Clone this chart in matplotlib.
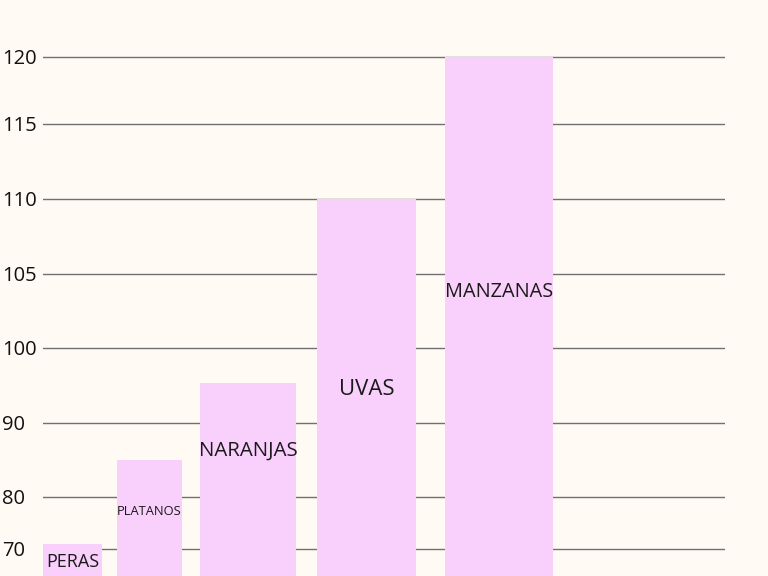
import numpy as np
import matplotlib
matplotlib.use("Agg")
import matplotlib.pyplot as plt

# Fruit counts
fruits = ["PERAS", "PLATANOS", "NARANJAS", "UVAS", "MANZANAS"]
values = [71, 85, 95.3, 110, 120]
label_y = [67.5, 77.3, 86.2, 94.4, 103.8]
label_sizes = [13, 9.3, 14.7, 15.9, 14.3]

# Bar layout (uneven widths, like the original)
lefts = [43, 117, 200, 317, 445]
widths = [59, 65, 96, 99, 108]

# The axis is not linear: tick values and where they sit (px from bottom)
tick_vals = [70, 80, 90, 100, 105, 110, 115, 120]
tick_h = [27, 79, 153, 228, 302, 377, 452, 519]

scale_vals = np.array([60] + tick_vals + [130], dtype=float)
scale_h = np.array([-25] + tick_h + [586], dtype=float)


def forward(v):
    return np.interp(v, scale_vals, scale_h)


def inverse(h):
    return np.interp(h, scale_h, scale_vals)


plt.rcParams["font.family"] = ["Open Sans", "DejaVu Sans"]

bg = "#fffaf3"
fig = plt.figure(figsize=(7.68, 5.76), dpi=100, facecolor=bg)
ax = fig.add_axes([43 / 768, 0, (725 - 43) / 768, 1])
ax.set_facecolor(bg)
ax.set_yscale("function", functions=(forward, inverse))

ax.bar(lefts, np.array(values) - 62, bottom=62, width=widths, align="edge",
       color="#f9cffc", zorder=2)

for i, name in enumerate(fruits):
    ax.text(lefts[i] + widths[i] / 2, label_y[i], name, ha="center", va="center",
            fontsize=label_sizes[i], color="#1a1a1a", zorder=3)

ax.set_xlim(43, 725)
ax.set_ylim(inverse(0), inverse(576))
ax.set_xticks([])
ax.set_yticks(tick_vals, [str(t) for t in tick_vals])
ax.tick_params(axis="y", length=0, pad=29.2, labelsize=14.5, labelcolor="#111111")
for lbl in ax.get_yticklabels():
    lbl.set_horizontalalignment("left")
ax.yaxis.grid(True, color="#707070", linewidth=1.0, zorder=1)
ax.set_axisbelow(True)
for s in ax.spines.values():
    s.set_visible(False)

fig.savefig("out.png", dpi=100, facecolor=bg)
